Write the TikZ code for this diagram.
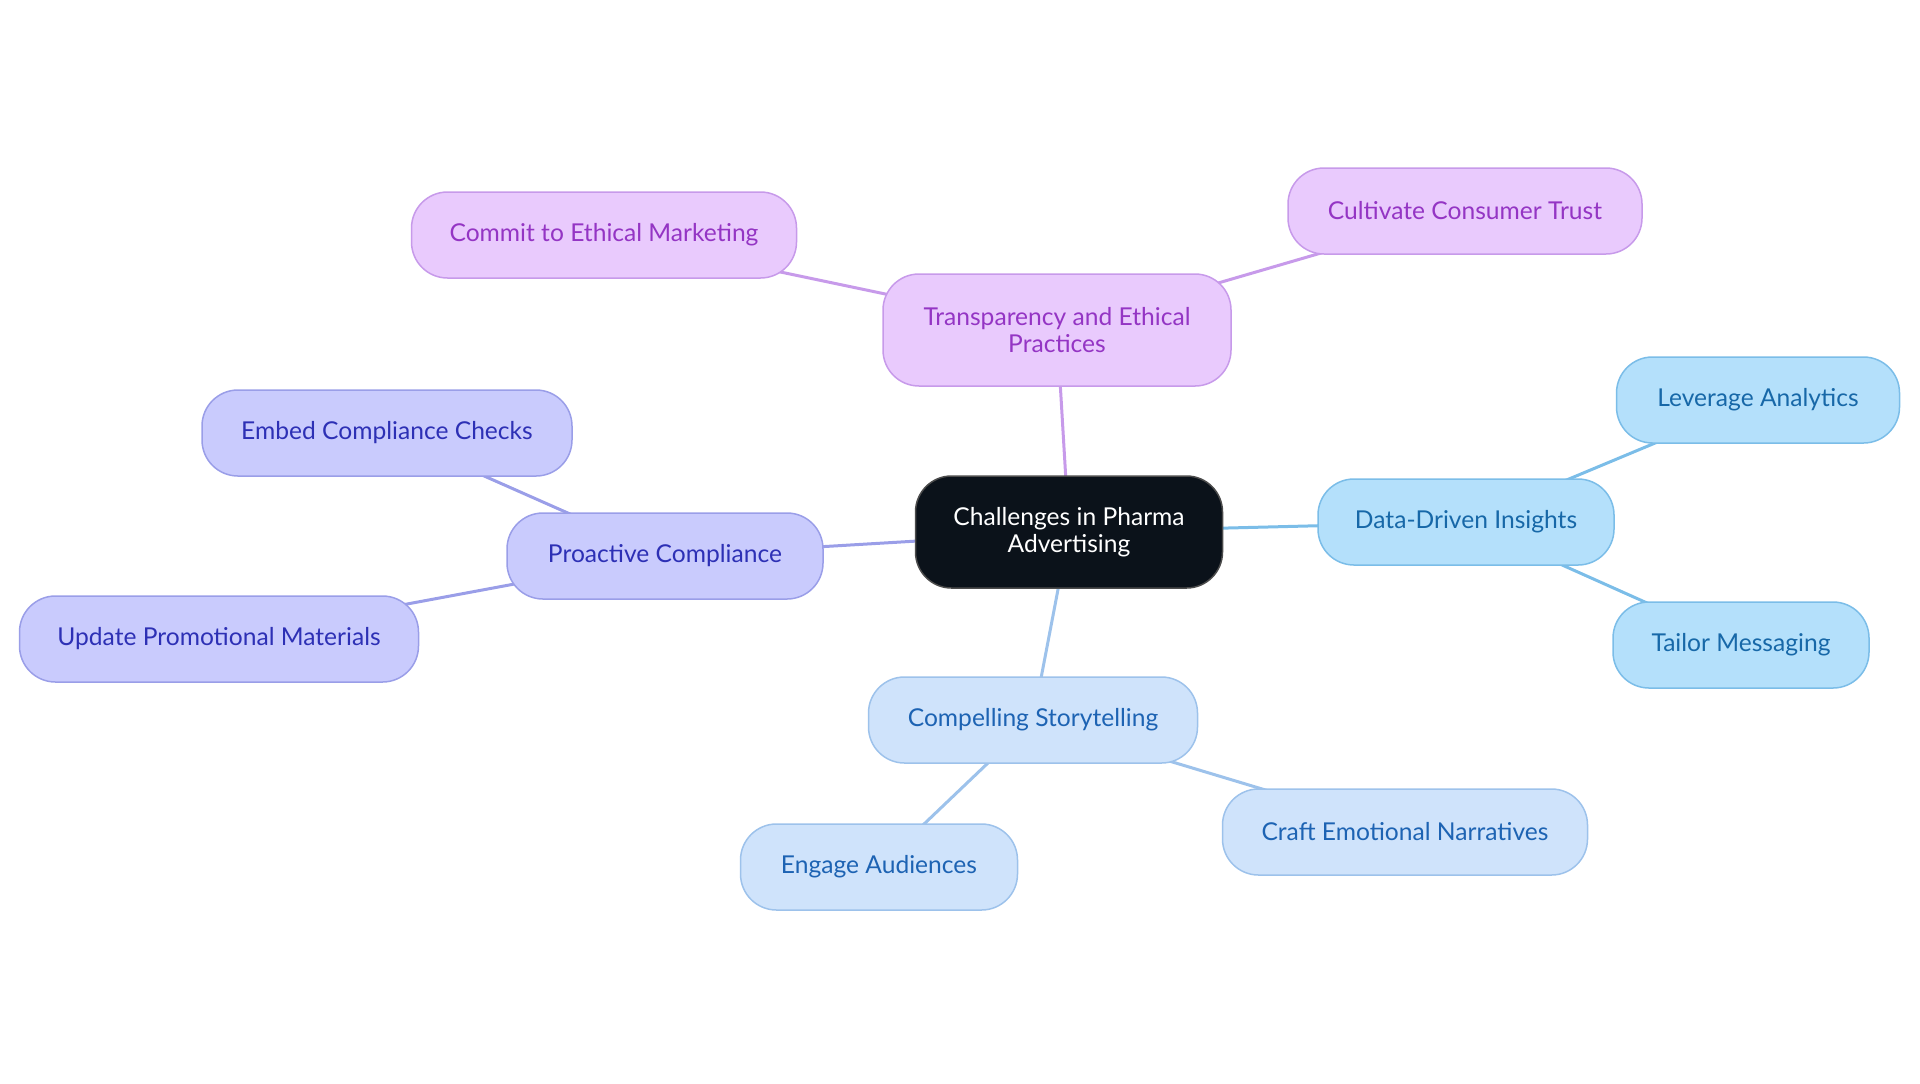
\documentclass[tikz,border=0pt]{standalone}
\usepackage{fontspec}
\setmainfont{Lato}
\usetikzlibrary{backgrounds}
\definecolor{purF}{HTML}{E9CAFD}\definecolor{purD}{HTML}{C79AEA}\definecolor{purT}{HTML}{9435C4}
\definecolor{indF}{HTML}{C9CBFD}\definecolor{indD}{HTML}{9A9EE8}\definecolor{indT}{HTML}{2D30B5}
\definecolor{skyF}{HTML}{B4E0FB}\definecolor{skyD}{HTML}{7BBDE8}\definecolor{skyT}{HTML}{1768A8}
\definecolor{bluF}{HTML}{CFE3FB}\definecolor{bluD}{HTML}{9DC2EB}\definecolor{bluT}{HTML}{1D63B3}
\definecolor{cenF}{HTML}{0B121A}
\begin{document}
\begin{tikzpicture}[x=0.5pt,y=-0.5pt,
  box/.style={draw, line width=0.75pt, rounded corners=18pt, minimum height=43pt, align=center, font=\fontsize{12.3}{13.5}\selectfont, inner sep=0pt},
  pur/.style={box, fill=purF, draw=purD, text=purT},
  ind/.style={box, fill=indF, draw=indD, text=indT},
  sky/.style={box, fill=skyF, draw=skyD, text=skyT},
  blu/.style={box, fill=bluF, draw=bluD, text=bluT},
  cen/.style={box, fill=cenF, draw=black!70, text=white},
  lnk/.style={line width=1.5pt}]
\useasboundingbox (0,0) rectangle (1920,1083);
\node[cen, minimum width=153.5pt, minimum height=56pt] (c) at (1069,532) {Challenges in Pharma\\Advertising};
\node[pur, minimum width=174pt, minimum height=56pt] (t) at (1057,330) {Transparency and Ethical\\Practices};
\node[pur, minimum width=192.5pt] (t1) at (604,235) {Commit to Ethical Marketing};
\node[pur, minimum width=177pt] (t2) at (1465,211) {Cultivate Consumer Trust};
\node[ind, minimum width=158pt] (p) at (665,556) {Proactive Compliance};
\node[ind, minimum width=185pt] (p1) at (387,433) {Embed Compliance Checks};
\node[ind, minimum width=199.5pt] (p2) at (219,639) {Update Promotional Materials};
\node[sky, minimum width=148pt] (d) at (1466,522) {Data-Driven Insights};
\node[sky, minimum width=141.5pt] (d1) at (1758,400) {Leverage Analytics};
\node[sky, minimum width=128pt] (d2) at (1741,645) {Tailor Messaging};
\node[blu, minimum width=164.5pt] (s) at (1033,720) {Compelling Storytelling};
\node[blu, minimum width=138.5pt] (s1) at (879,867) {Engage Audiences};
\node[blu, minimum width=182.5pt] (s2) at (1405,832) {Craft Emotional Narratives};
\begin{pgfonlayer}{background}
\draw[lnk, purD] (c.center) -- (t.center); \draw[lnk, purD] (t.center) -- (t1.center); \draw[lnk, purD] (t.center) -- (t2.center);
\draw[lnk, indD] (c.center) -- (p.center); \draw[lnk, indD] (p.center) -- (p1.center); \draw[lnk, indD] (p.center) -- (p2.center);
\draw[lnk, skyD] (c.center) -- (d.center); \draw[lnk, skyD] (d.center) -- (d1.center); \draw[lnk, skyD] (d.center) -- (d2.center);
\draw[lnk, bluD] (c.center) -- (s.center); \draw[lnk, bluD] (s.center) -- (s1.center); \draw[lnk, bluD] (s.center) -- (s2.center);
\end{pgfonlayer}
\end{tikzpicture}
\end{document}
